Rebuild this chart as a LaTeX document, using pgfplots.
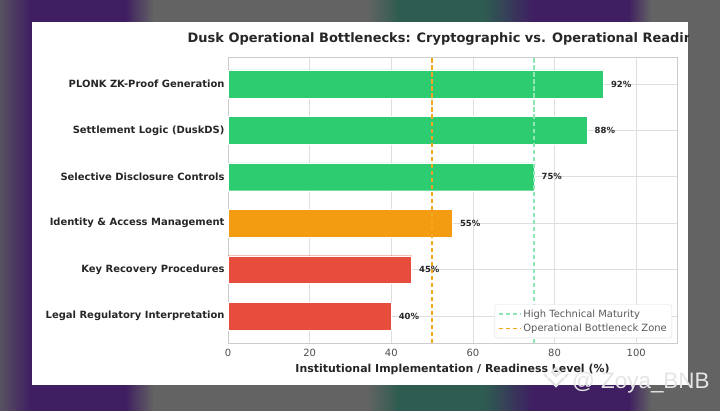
\documentclass[border=0pt]{standalone}
\usepackage{fontspec}
\setmainfont{DejaVu Sans}
\newfontfamily\wmfont{Liberation Sans}
\usepackage{pgfplots}
\pgfplotsset{compat=1.18}
\definecolor{bggray}{HTML}{636363}
\definecolor{bgpurple}{HTML}{3F1F62}
\definecolor{bggreen}{HTML}{2E5C50}
\definecolor{bgleft}{HTML}{575060}
\definecolor{cgreen}{HTML}{2ECC71}
\definecolor{corange}{HTML}{F5A623}
\definecolor{cbarorange}{HTML}{F39C12}
\definecolor{cred}{HTML}{E74C3C}
\definecolor{clgreen}{HTML}{8FE6B2}
\definecolor{gridc}{HTML}{DEDEDE}
\definecolor{framec}{HTML}{CCCCCC}
\definecolor{txt}{HTML}{262626}
\definecolor{ticktxt}{HTML}{4D4D4D}
\definecolor{legtxt}{HTML}{5A5A5A}
\newcommand{\grad}[4]{% x0, x1, colorA, colorB
  \foreach \i in {0,...,15} {
    \pgfmathsetmacro\p{100-\i*100/15}
    \pgfmathsetmacro\xa{#1+(#2-#1)*\i/16}
    \fill[#3!\p!#4] (\xa,0) rectangle ({\xa+(#2-#1)/16+0.4},411);
  }}
\begin{document}
\begin{tikzpicture}[x=1bp,y=1bp]
\useasboundingbox (0,0) rectangle (720,411);
% background
\grad{0}{32}{bgleft}{bgpurple}
\fill[bgpurple] (32,0) rectangle (125,411);
\grad{125}{155}{bgpurple}{bggray}
\fill[bggray] (155,0) rectangle (367,411);
\grad{367}{400}{bggray}{bggreen}
\fill[bggreen] (400,0) rectangle (482,411);
\grad{482}{535}{bggreen}{bgpurple}
\fill[bgpurple] (535,0) rectangle (628,411);
\grad{628}{652}{bgpurple}{bggray}
\fill[bggray] (652,0) rectangle (720,411);
% white card
\fill[white] (32,26) rectangle (688,389);
% title clipped to card
\begin{scope}
\clip (32,26) rectangle (688,389);
\node[font=\bfseries\fontsize{13}{15}\selectfont, text=txt] at (452.5,372) {Dusk Operational Bottlenecks: Cryptographic vs. Operational Readiness};
\end{scope}
\begin{axis}[
  at={(228bp,68bp)}, anchor=south west,
  scale only axis, width=449bp, height=286bp,
  xmin=0, xmax=110, ymin=-0.58, ymax=5.58,
  xtick={0,20,40,60,80,100},
  ytick={0,1,2,3,4,5},
  yticklabels={Legal Regulatory Interpretation, Key Recovery Procedures, Identity \& Access Management, Selective Disclosure Controls, Settlement Logic (DuskDS), PLONK ZK-Proof Generation},
  major tick length=0pt,
  /pgf/number format/assume math mode=true,
  xticklabel style={font=\fontsize{10}{12}\selectfont, text=ticktxt, yshift=-2.5bp},
  yticklabel style={font=\bfseries\fontsize{10}{12}\selectfont, text=txt},
  xlabel={Institutional Implementation / Readiness Level (\%)},
  xlabel style={font=\bfseries\fontsize{11}{13}\selectfont, text=txt, yshift=-1bp},
  grid=major,
  major grid style={gridc, line width=0.8bp},
  axis line style={framec, line width=0.8bp},
  legend style={at={(rel axis cs:1,0)}, anchor=south east, xshift=-5bp, yshift=5bp,
    draw=gridc, fill=white, rounded corners=2bp, font=\fontsize{10}{12}\selectfont, text=legtxt,
    row sep=1bp, inner xsep=3bp, inner ysep=3bp},
  legend cell align=left,
  legend image code/.code={\draw[#1, line width=1.5bp] (0bp,0bp) -- (22bp,0bp);},
  nodes near coords={\pgfmathprintnumber{\pgfplotspointmeta}\%},
  point meta=x,
  every node near coord/.append style={font=\bfseries\fontsize{8.5}{10}\selectfont, text=txt, anchor=west, xshift=4bp},
]
\addplot[xbar, bar width=0.6, bar shift=0pt, fill=cgreen, draw=white, line width=0.4bp, forget plot] coordinates {(92,5) (88,4) (75,3)};
\addplot[xbar, bar width=0.6, bar shift=0pt, fill=cbarorange, draw=white, line width=0.4bp, forget plot] coordinates {(55,2)};
\addplot[xbar, bar width=0.6, bar shift=0pt, fill=cred, draw=white, line width=0.4bp, forget plot] coordinates {(45,1) (40,0)};
\addplot[clgreen, line width=1.5bp, dash pattern=on 4.5bp off 2.5bp, nodes near coords={}, mark=none] coordinates {(75,-0.58) (75,5.58)};
\addlegendentry{High Technical Maturity}
\addplot[corange, line width=1.4bp, dash pattern=on 4.5bp off 2.5bp, nodes near coords={}, mark=none] coordinates {(50,-0.58) (50,5.58)};
\addlegendentry{Operational Bottleneck Zone}
\end{axis}
% watermark
\begin{scope}[draw=white!90!black, line width=2.2bp]
\draw (548,33) -- (556,25) -- (564,33);
\draw (552,39) -- (556,43) -- (560,39) -- (556,35) -- cycle;
\draw (544,37) -- (547,34);
\draw (568,37) -- (565,34);
\end{scope}
\node[anchor=west, font=\wmfont\fontsize{22.5}{24}\selectfont, text=white!90!black, inner sep=0pt] at (572,28) {@ Zoya\_BNB};
\end{tikzpicture}
\end{document}
